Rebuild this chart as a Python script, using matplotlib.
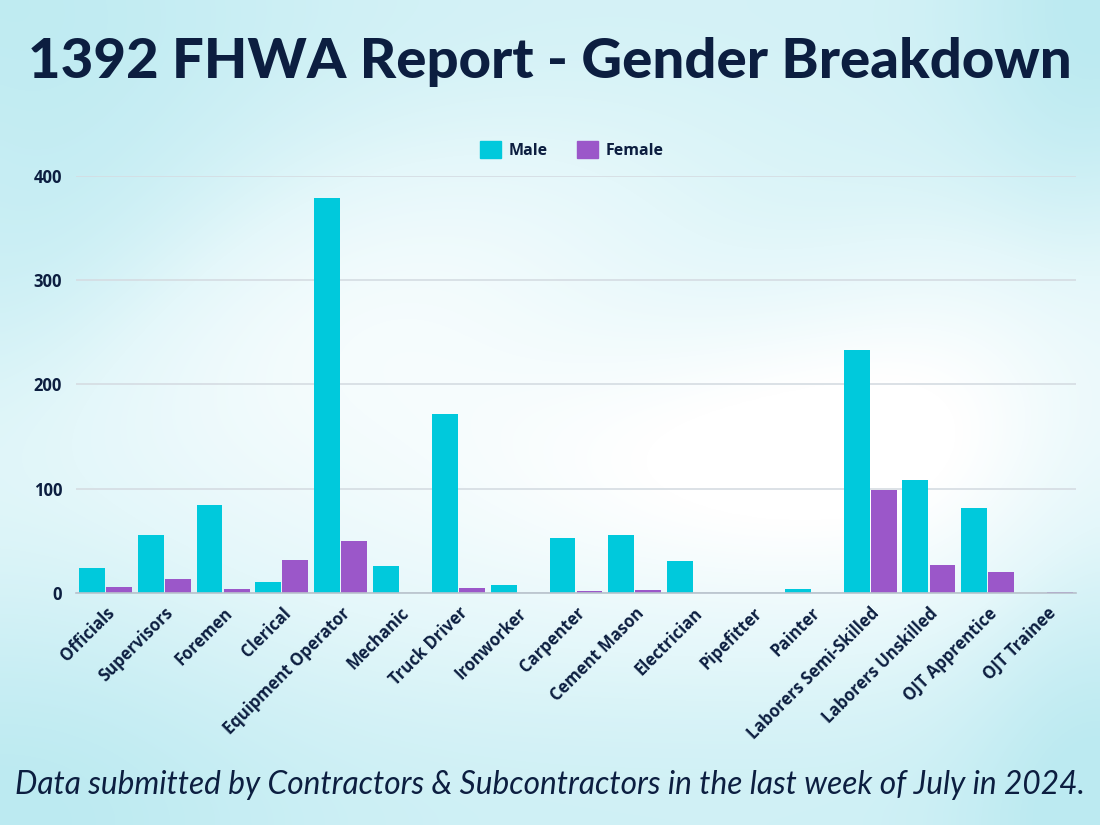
import numpy as np
import matplotlib
matplotlib.use("Agg")
import matplotlib.pyplot as plt
from matplotlib.colors import LinearSegmentedColormap
from matplotlib.patches import Patch

categories = ["Officials", "Supervisors", "Foremen", "Clerical", "Equipment Operator",
              "Mechanic", "Truck Driver", "Ironworker", "Carpenter", "Cement Mason",
              "Electrician", "Pipefitter", "Painter", "Laborers Semi-Skilled",
              "Laborers Unskilled", "OJT Apprentice", "OJT Trainee"]
male = [24, 56, 84, 11, 379, 26, 172, 8, 53, 56, 31, 0, 4, 233, 108, 81, 0]
female = [6, 13, 4, 32, 50, 0, 5, 0, 2, 3, 0, 0, 0, 99, 27, 20, 1]
y_ticks = [0, 100, 200, 300, 400]

MALE_C = "#00C9DC"
FEMALE_C = "#9B57C9"
NAVY = "#0C1E40"

fig = plt.figure(figsize=(11, 8.25), dpi=100)

# soft watercolor-like background
bg = fig.add_axes([0, 0, 1, 1], zorder=-10)
h, w = 165, 220
yy, xx = np.mgrid[0:1:h*1j, 0:1:w*1j]
field = (0.55 * np.exp(-((yy - 0.0) / 0.35) ** 2)
         + 0.6 * np.exp(-((yy - 1.0) / 0.32) ** 2)
         + 0.25 * np.exp(-((xx - 0.0) / 0.25) ** 2)
         + 0.3 * np.exp(-((xx - 1.0) / 0.12) ** 2)
         + 0.15 * np.sin(xx * 9 + yy * 5) * np.exp(-((yy - 0.35) / 0.2) ** 2)
         + 0.15
         - 0.4 * np.exp(-(((xx - 0.72) / 0.3) ** 2 + ((yy - 0.55) / 0.18) ** 2)))
field = np.clip(field, 0, 1)
cmap = LinearSegmentedColormap.from_list("bgc", ["#FFFFFF", "#E4F7FA", "#BCEAF1"])
bg.imshow(field, cmap=cmap, aspect="auto", extent=[0, 1, 0, 1], origin="upper",
          interpolation="bicubic", vmin=0, vmax=1)
bg.set_axis_off()

ax = fig.add_axes([76 / 1100, 1 - 593 / 825, 1000 / 1100, (593 - 175.7) / 825])
ax.patch.set_alpha(0)
x = np.arange(len(categories))
bw = 0.44
ax.bar(x - 0.23, male, width=bw, color=MALE_C, label="Male", zorder=3)
ax.bar(x + 0.23, female, width=bw, color=FEMALE_C, label="Female", zorder=3)

ax.set_xlim(-0.5, len(categories) - 0.5)
ax.set_ylim(0, 400)
ax.set_yticks(y_ticks)
ax.set_yticklabels([str(v) for v in y_ticks], fontsize=12, fontweight="bold",
                   color=NAVY, family="Open Sans")
ax.set_xticks(x)
ax.set_xticklabels(categories, rotation=45, ha="right", rotation_mode="anchor",
                   fontsize=12, fontweight="bold", color=NAVY, family="Open Sans")
ax.tick_params(axis="both", length=0)
ax.tick_params(axis="y", pad=10)
ax.tick_params(axis="x", pad=8)
ax.grid(axis="y", color="#D5DCE2", linewidth=1.2, zorder=0)
for s in ["top", "right", "left"]:
    ax.spines[s].set_visible(False)
ax.spines["bottom"].set_color("#B8C2CC")
ax.spines["bottom"].set_linewidth(1.2)
ax.spines["bottom"].set_zorder(4)

handles = [Patch(color=MALE_C, label="Male"), Patch(color=FEMALE_C, label="Female")]
leg = fig.legend(handles=handles, loc="center", bbox_to_anchor=(572 / 1100, 1 - 150 / 825),
                 ncol=2, frameon=False, prop={"family": "Open Sans", "weight": "bold", "size": 11.5},
                 handlelength=1.3, handleheight=1.3, columnspacing=1.8, handletextpad=0.5)
for t in leg.get_texts():
    t.set_color(NAVY)

fig.text(0.5, 1 - 62 / 825, "1392 FHWA Report - Gender Breakdown", ha="center", va="center",
         fontsize=40.5, fontweight="black", color=NAVY, family="Lato")
fig.text(0.5, 1 - 785 / 825,
         "Data submitted by Contractors & Subcontractors in the last week of July in 2024.",
         ha="center", va="center", fontsize=22.8, style="italic", color=NAVY, family="Lato")

fig.savefig("out.png", dpi=100)
